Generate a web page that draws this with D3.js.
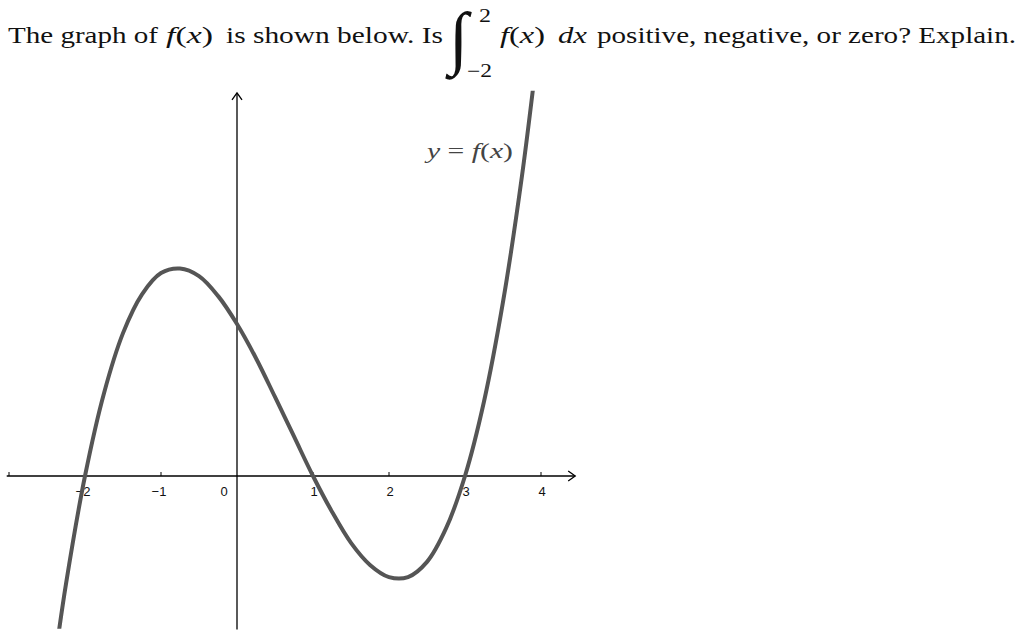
<!DOCTYPE html>
<html>
<head>
<meta charset="utf-8">
<script src="https://cdn.jsdelivr.net/npm/d3@7"></script>
<style>
  body { margin: 0; background: #fff; }
  svg { display: block; }
</style>
</head>
<body>
<script>
// points (x in units, y in units)
var curveX = [-2.4, -2.25, -2, -1.75, -1.5, -1.25, -1, -0.75, -0.5, -0.25, 0, 0.25, 0.5, 0.75,
              1, 1.25, 1.5, 1.75, 2, 2.25, 2.5, 2.75, 3, 3.25, 3.5, 3.75, 3.95];
var curveY = [-2.45, -1.42, 0, 1.09, 1.88, 2.39, 2.67, 2.73, 2.63, 2.37, 2, 1.55, 1.04, 0.52,
              0, -0.47, -0.88, -1.17, -1.33, -1.33, -1.13, -0.69, 0, 0.98, 2.29, 3.95, 5.56];
var tickVals = [-3, -2, -1, 0, 1, 2, 3, 4];
var tickLabels = ['', '\u22122', '\u22121', '0', '1', '2', '3', '4'];

var W = 1024, H = 642;

var svg = d3.select('body').append('svg')
    .attr('width', W)
    .attr('height', H);

var x = d3.scaleLinear().domain([0, 1]).range([237, 313]),
    y = d3.scaleLinear().domain([0, 1]).range([476, 400]);

var serif = '"Liberation Serif", "Times New Roman", serif';

// ---- question line ----
function chunk(parts, x0, x1, base, size) {
    var t = svg.append('text')
        .attr('x', x0)
        .attr('y', base)
        .attr('font-family', serif)
        .attr('font-size', size)
        .attr('fill', '#111')
        .attr('textLength', x1 - x0)
        .attr('lengthAdjust', 'spacingAndGlyphs');
    parts.forEach(function(p) {
        t.append('tspan')
            .attr('font-style', p[1] ? 'italic' : 'normal')
            .text(p[0]);
    });
    return t;
}

chunk([['The graph of', 0]], 8, 158, 43, 23);
chunk([['f', 1], ['(', 0], ['x', 1], [')', 0]], 166, 213, 43, 23);
chunk([['is shown below. Is', 0]], 226, 443, 43, 23);
svg.append('text')
    .attr('x', 449)
    .attr('y', 61)
    .attr('font-family', serif)
    .attr('font-size', 70)
    .attr('fill', '#111')
    .text('\u222B');
chunk([['2', 0]], 479, 491, 22, 18);
chunk([['\u22122', 0]], 467, 492, 77, 18);
chunk([['f', 1], ['(', 0], ['x', 1], [')', 0]], 500, 545, 43, 23);
chunk([['dx', 1]], 558, 587, 43, 23);
chunk([['positive, negative, or zero? Explain.', 0]], 597, 1016, 43, 23);

// ---- axes ----
var axisG = svg.append('g')
    .attr('stroke', '#000')
    .attr('stroke-width', 1.3)
    .attr('fill', 'none');

axisG.append('path')
    .attr('d', 'M' + [x(-3.03), y(0)] + 'L' + [x(4.45), y(0)]);
axisG.append('path')
    .attr('d', 'M' + [x(4.45) - 7, y(0) - 5] + 'L' + [x(4.45), y(0)] + 'L' + [x(4.45) - 7, y(0) + 5]);

axisG.append('path')
    .attr('d', 'M' + [x(0), y(-2.02)] + 'L' + [x(0), y(5.04)]);
axisG.append('path')
    .attr('d', 'M' + [x(0) - 5, y(5.04) + 7] + 'L' + [x(0), y(5.04)] + 'L' + [x(0) + 5, y(5.04) + 7]);

tickVals.forEach(function(d, i) {
    if (d !== 0) {
        axisG.append('path')
            .attr('d', 'M' + [x(d), y(0)] + 'L' + [x(d), y(0) - 4])
            .attr('stroke-width', 1);
    }
    if (tickLabels[i]) {
        svg.append('text')
            .attr('x', d === 0 ? x(d) - 13 : x(d) + (d < 0 ? -2 : 1))
            .attr('y', y(0) + 20)
            .attr('text-anchor', 'middle')
            .attr('font-family', '"Liberation Sans", Arial, sans-serif')
            .attr('font-size', 13)
            .attr('fill', '#111')
            .text(tickLabels[i]);
    }
});

// ---- curve ----
svg.append('clipPath')
    .attr('id', 'plot-clip')
  .append('rect')
    .attr('x', 0)
    .attr('y', y(5.07))
    .attr('width', W)
    .attr('height', y(-2.01) - y(5.07));

var pts = curveX.map(function(d, i) { return [d, curveY[i]]; });

var line = d3.line()
    .x(function(d) { return x(d[0]); })
    .y(function(d) { return y(d[1]); })
    .curve(d3.curveCatmullRom);

svg.append('path')
    .datum(pts)
    .attr('clip-path', 'url(#plot-clip)')
    .attr('d', line)
    .attr('fill', 'none')
    .attr('stroke', '#555')
    .attr('stroke-width', 4);

// ---- curve label ----
var lab = svg.append('text')
    .attr('x', 427)
    .attr('y', 158)
    .attr('font-family', serif)
    .attr('font-size', 20)
    .attr('fill', '#444')
    .attr('textLength', 86)
    .attr('lengthAdjust', 'spacingAndGlyphs');
[['y', 1], [' = ', 0], ['f', 1], ['(', 0], ['x', 1], [')', 0]].forEach(function(p) {
    lab.append('tspan')
        .attr('font-style', p[1] ? 'italic' : 'normal')
        .text(p[0]);
});
</script>
</body>
</html>
